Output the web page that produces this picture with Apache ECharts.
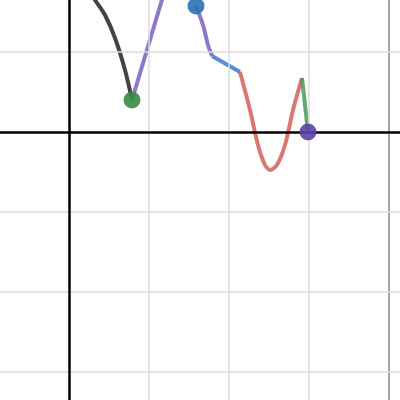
<!DOCTYPE html>
<html>
<head>
<meta charset="utf-8">
<script src="https://cdn.jsdelivr.net/npm/echarts@6/dist/echarts.min.js"></script>
<style>html,body,#main{margin:0;padding:0;width:400px;height:400px;background:#fff}</style>
</head>
<body>
<div id="main"></div>
<script>
var gridX = [1, 2, 3, 4];
var gridY = [1, -1, -2, -3];
var darkCurve = [[0.24,1.78],[0.325,1.65],[0.45,1.4625],[0.575,1.175],[0.7,0.775],[0.7875,0.4]];
var purpleLine = [[0.7875,0.4],[1.2,1.78]];
var purpleCurve = [[1.5875,1.575],[1.675,1.3375],[1.7375,1.0875],[1.7875,0.95]];
var blueLine = [[1.7875,0.95],[2.1375,0.75]];
var redCurve = [[2.1375,0.75],[2.2625,0.275],[2.3625,-0.1625],[2.45,-0.4125],[2.5125,-0.475],[2.6,-0.41],[2.7,-0.1625],[2.8,0.275],[2.9125,0.675]];
var greenLine = [[2.9125,0.675],[2.9875,0]];
var dots = [
  {p:[0.7875,0.4], c:'#388c46'},
  {p:[1.5875,1.575], c:'#2d70b3'},
  {p:[2.9875,0], c:'#6042a6'}
];

function line(data, color, smooth) {
  return {type:'line', data:data, smooth:smooth ? 0.3 : false, showSymbol:false,
    lineStyle:{color:color, width:4, opacity:0.85}, z:3, silent:true, clip:true};
}
var gridLines = gridX.map(function(v){return {xAxis:v, lineStyle:{color: v===4 ? '#888' : '#ddd', width: 1.5, type:'solid'}};})
  .concat(gridY.map(function(v){return {yAxis:v, lineStyle:{color:'#ddd', width:1.5, type:'solid'}};}))
  .concat([{xAxis:0, lineStyle:{color:'#000', width:2.5, type:'solid'}}, {yAxis:0, lineStyle:{color:'#000', width:2.5, type:'solid'}}]);

var series = [
  {type:'line', data:[], markLine:{symbol:'none', silent:true, label:{show:false}, data:gridLines}, z:1},
  line(darkCurve, '#222', true),
  line(purpleLine, '#7b5fc0', false),
  line(purpleCurve, '#7b5fc0', true),
  line(blueLine, '#3a7cc4', false),
  line(redCurve, '#d35f5a', true),
  line(greenLine, '#4a9a5a', false)
];
dots.forEach(function(d){
  series.push({type:'scatter', data:[d.p], symbolSize:17, itemStyle:{color:d.c, opacity:0.9}, z:5});
});

var chart = echarts.init(document.getElementById('main'));
chart.setOption({
  animation:false,
  grid:{left:0, right:0, top:0, bottom:0},
  xAxis:{type:'value', min:-0.8625, max:4.1375, axisLine:{show:false}, axisTick:{show:false}, axisLabel:{show:false}, splitLine:{show:false}},
  yAxis:{type:'value', min:-3.35, max:1.65, axisLine:{show:false}, axisTick:{show:false}, axisLabel:{show:false}, splitLine:{show:false}},
  series:series
});
</script>
</body>
</html>
